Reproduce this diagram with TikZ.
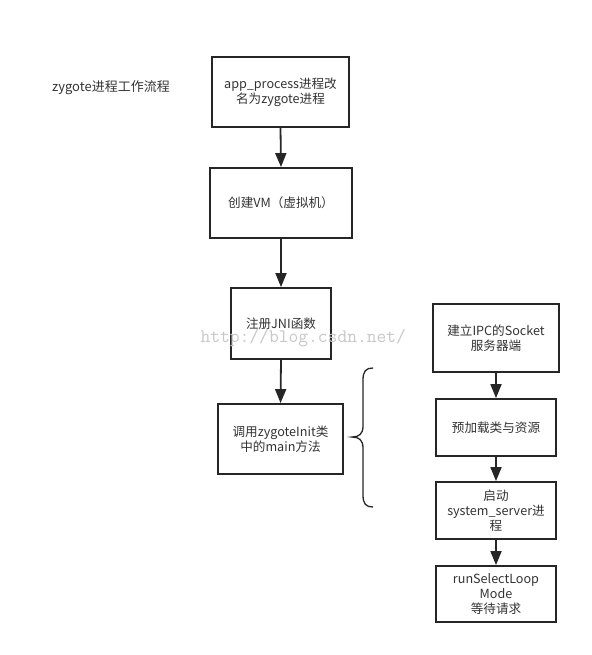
\documentclass[tikz,border=0pt]{standalone}
\usepackage{fontspec}
\newfontfamily\cjk{Noto Sans CJK SC}
\usetikzlibrary{arrows.meta}
\tikzset{
  box/.style={draw=black!85, line width=1.8pt, inner sep=0pt, align=center,
    font=\cjk\fontsize{12.6}{15}\selectfont, text=black!80},
  flow/.style={draw=black!85, line width=1.8pt, -{Triangle[length=14pt,width=11pt]}},
  bracepath/.style={draw=black!85, line width=1.3pt},
}
\begin{document}
\begin{tikzpicture}[x=1pt,y=-1pt]
\useasboundingbox (0,0) rectangle (591,655);
\node[font=\cjk\fontsize{13}{15}\selectfont, text=black!80, anchor=west, inner sep=0pt] (title) at (52,88) {zygote进程工作流程};

\node[box, minimum width=137pt, minimum height=70pt] (b1) at (280.5,92) {app\_process进程改\\名为zygote进程};
\node[box, minimum width=142pt, minimum height=70pt] (b2) at (281,203) {创建VM（虚拟机）};
\node[box, minimum width=100pt, minimum height=71pt] (b3) at (281,323.5) {注册JNI函数};
\node[box, minimum width=125pt, minimum height=70pt] (b4) at (280.5,439) {调用zygoteInit类\\中的main方法};

\node[box, minimum width=126pt, minimum height=68pt] (ra) at (496,338) {建立IPC的Socket\\服务器端};
\node[box, minimum width=120pt, minimum height=57pt] (rb) at (496,427.5) {预加载类与资源};
\node[box, minimum width=120pt, minimum height=57pt] (rc) at (496,510.5) {启动\\system\_server进\\程};
\node[box, minimum width=120pt, minimum height=56pt] (rd) at (496,594) {runSelectLoop\\Mode\\等待请求};

\draw[flow] (b1.south) -- (b2.north);
\draw[flow] (b2.south) -- (b3.north);
\draw[flow] (b3.south) -- (b4.north);
\draw[flow] (ra.south) -- (rb.north);
\draw[flow] (rb.south) -- (rc.north);
\draw[flow] (rc.south) -- (rd.north);

\draw[bracepath] (373,368) .. controls (366,368) and (363,371) .. (363,380) -- (363,426)
  .. controls (363,434) and (359,437) .. (352,437)
  .. controls (359,437) and (363,440) .. (363,448) -- (363,495)
  .. controls (363,504) and (366,507) .. (373,507);

\node[font=\ttfamily\fontsize{19}{19}\selectfont, text=black!22, anchor=west] (wm) at (197,338) {http://blog.csdn.net/};
\end{tikzpicture}
\end{document}
